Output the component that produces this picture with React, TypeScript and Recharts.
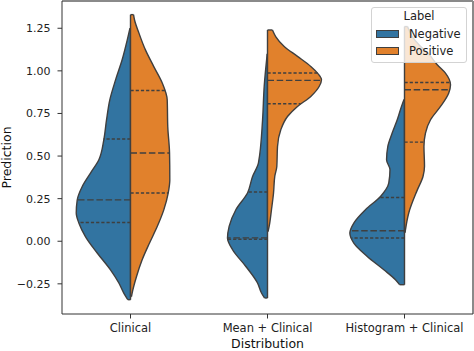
import React from 'react';
import { ComposedChart, Area, XAxis, YAxis, ReferenceLine, Legend } from 'recharts';

const categories = ['Clinical', 'Mean + Clinical', 'Histogram + Clinical'];
const groups = ['Negative', 'Positive'];
const groupColors = ['#3274a1', '#e1812c'];
const yTicks = [-0.25, 0, 0.25, 0.5, 0.75, 1.0, 1.25];

// half-violin outlines: [prediction, half width in category units]
const clinicalNeg = [
  [1.25, 0.004], [1.18, 0.024], [1.065, 0.061], [0.947, 0.109], [0.83, 0.151],
  [0.712, 0.175], [0.594, 0.195], [0.48, 0.23], [0.4, 0.292], [0.32, 0.353],
  [0.242, 0.389], [0.166, 0.396], [0.107, 0.377], [0.026, 0.328], [-0.069, 0.243],
  [-0.168, 0.146], [-0.245, 0.085], [-0.304, 0.049], [-0.343, 0.02],
];
const clinicalPos = [
  [1.33, 0.022], [1.3, 0.029], [1.223, 0.061], [1.123, 0.109], [1.025, 0.17],
  [0.93, 0.231], [0.83, 0.268], [0.672, 0.272], [0.518, 0.285], [0.36, 0.287],
  [0.283, 0.275], [0.184, 0.243], [0.086, 0.195], [-0.01, 0.139], [-0.109, 0.085],
  [-0.207, 0.044], [-0.304, 0.012], [-0.325, 0.007],
];
const meanNeg = [
  [1.1, 0.002], [0.91, 0.024], [0.712, 0.036], [0.46, 0.066], [0.38, 0.109],
  [0.283, 0.146], [0.185, 0.231], [0.087, 0.28], [0.019, 0.292], [-0.05, 0.255],
  [-0.148, 0.158], [-0.245, 0.073], [-0.304, 0.044], [-0.333, 0.022],
];
const meanPos = [
  [1.24, 0.036], [1.2, 0.061], [1.143, 0.122], [1.085, 0.219], [1.026, 0.316],
  [0.987, 0.365], [0.948, 0.394], [0.908, 0.377], [0.85, 0.316], [0.791, 0.219],
  [0.732, 0.146], [0.654, 0.097], [0.556, 0.073], [0.439, 0.068], [0.38, 0.053],
  [0.283, 0.044], [0.185, 0.029], [0.087, 0.012], [0.057, 0.004],
];
const histNeg = [
  [0.832, 0.004], [0.791, 0.022], [0.713, 0.053], [0.635, 0.09], [0.556, 0.122],
  [0.478, 0.131], [0.42, 0.106], [0.341, 0.115], [0.263, 0.175], [0.185, 0.285],
  [0.107, 0.37], [0.048, 0.399], [-0.011, 0.37], [-0.089, 0.272], [-0.167, 0.151],
  [-0.226, 0.066], [-0.255, 0.036],
];
const histPos = [
  [1.26, 0.022], [1.2, 0.058], [1.15, 0.109], [1.1, 0.175], [1.036, 0.239],
  [0.987, 0.299], [0.918, 0.336], [0.87, 0.323], [0.791, 0.263], [0.713, 0.19],
  [0.635, 0.153], [0.556, 0.142], [0.44, 0.146], [0.38, 0.135], [0.3, 0.093],
  [0.166, 0.031], [0.067, 0.007], [0.05, 0.004],
];

// inner quartile lines: [prediction, half width] as Q3, median, Q1
const clinicalNegQuart = [[0.6, 0.197], [0.243, 0.389], [0.11, 0.38]];
const clinicalPosQuart = [[0.885, 0.252], [0.518, 0.285], [0.283, 0.275]];
const meanNegQuart = [[0.289, 0.146], [0.02, 0.292], [0.012, 0.292]];
const meanPosQuart = [[0.987, 0.365], [0.944, 0.394], [0.807, 0.241]];
const histNegQuart = [[0.257, 0.175], [0.062, 0.394], [0.019, 0.383]];
const histPosQuart = [[0.932, 0.336], [0.889, 0.33], [0.582, 0.146]];

const halves = [
  { cat: 0, side: -1, outline: clinicalNeg, quart: clinicalNegQuart },
  { cat: 0, side: 1, outline: clinicalPos, quart: clinicalPosQuart },
  { cat: 1, side: -1, outline: meanNeg, quart: meanNegQuart },
  { cat: 1, side: 1, outline: meanPos, quart: meanPosQuart },
  { cat: 2, side: -1, outline: histNeg, quart: histNegQuart },
  { cat: 2, side: 1, outline: histPos, quart: histPosQuart },
];

const font = "'DejaVu Sans', sans-serif";
const edge = '#3f3f3f';
const yDomain = [-0.427, 1.41];

function LegendBox() {
  return (
    <div
      style={{
        background: 'rgba(255,255,255,0.8)',
        border: '1px solid #d3d3d3',
        borderRadius: 3,
        padding: '0 4px 3px 4px',
        fontFamily: font,
        fontSize: 11.5,
        color: '#222',
        boxSizing: 'border-box',
        width: 96,
      }}
    >
      <div style={{ height: 17, lineHeight: '17px', textAlign: 'center' }}>Label</div>
      {groups.map((g, i) => (
        <div key={g} style={{ height: 17, display: 'flex', alignItems: 'center' }}>
          <span
            style={{
              width: 23,
              height: 8,
              boxSizing: 'border-box',
              background: groupColors[i],
              border: `1px solid ${edge}`,
              marginRight: 10,
            }}
          />
          <span>{g}</span>
        </div>
      ))}
    </div>
  );
}

export default function App() {
  return (
    <div style={{ position: 'absolute', left: 0, top: 0, fontFamily: font }}>
      <ComposedChart
        width={474}
        height={351}
        layout="vertical"
        margin={{ top: 1, right: 1, bottom: 0, left: 0 }}
      >
        <XAxis
          type="number"
          dataKey="x"
          domain={[-0.5, 2.5]}
          ticks={[0, 1, 2]}
          allowDataOverflow
          tickFormatter={(v: number) => categories[v]}
          height={37}
          tickSize={4.5}
          tickMargin={5}
          stroke="#333"
          tick={{ fill: '#222', fontSize: 11.5, fontFamily: font }}
          label={{
            value: 'Distribution',
            position: 'insideBottom',
            offset: 3,
            fill: '#111',
            fontSize: 12.5,
            fontFamily: font,
          }}
        />
        <YAxis
          type="number"
          dataKey="y"
          domain={yDomain}
          ticks={yTicks}
          reversed
          allowDataOverflow
          width={62}
          tickSize={4.5}
          tickMargin={7}
          stroke="#333"
          tickFormatter={(v: number) => v.toFixed(2).replace('-', '\u2212')}
          tick={{ fill: '#222', fontSize: 11, fontFamily: font }}
          label={{
            value: 'Prediction',
            angle: -90,
            position: 'center',
            dx: -24,
            fill: '#111',
            fontSize: 12.5,
            fontFamily: font,
          }}
        />
        {halves.map((h, i) => (
          <Area
            key={`half-${i}`}
            name={groups[h.side < 0 ? 0 : 1]}
            data={h.outline.map(([y, w]) => ({ y, w }))}
            dataKey={(d: { w: number }) =>
              h.side < 0 ? [h.cat - d.w, h.cat] : [h.cat, h.cat + d.w]
            }
            type="monotone"
            fill={groupColors[h.side < 0 ? 0 : 1]}
            fillOpacity={1}
            stroke={edge}
            strokeWidth={1.4}
            dot={false}
            activeDot={false}
            isAnimationActive={false}
          />
        ))}
        {halves.map((h, i) =>
          [h.outline[0], h.outline[h.outline.length - 1]].map(([y, w], k) => (
            <ReferenceLine
              key={`cap-${i}-${k}`}
              segment={[
                { x: h.cat, y },
                { x: h.cat + h.side * w, y },
              ]}
              stroke={edge}
              strokeWidth={1.4}
            />
          ))
        )}
        {halves.map((h, i) =>
          h.quart.map(([y, w], k) => (
            <ReferenceLine
              key={`q-${i}-${k}`}
              segment={[
                { x: h.cat, y },
                { x: h.cat + h.side * w, y },
              ]}
              stroke={edge}
              strokeWidth={1.4}
              strokeDasharray={k === 1 ? '6.5 2.7' : '3.2 2'}
            />
          ))
        )}
        <ReferenceLine y={yDomain[1]} stroke="#8a8a8a" strokeWidth={2} />
        <ReferenceLine x={2.5} stroke="#8a8a8a" strokeWidth={2} />
        <Legend
          layout="vertical"
          align="center"
          verticalAlign="middle"
          content={() => <LegendBox />}
          wrapperStyle={{ position: 'absolute', top: 7, left: 371, width: 96, height: 56 }}
        />
      </ComposedChart>
    </div>
  );
}
